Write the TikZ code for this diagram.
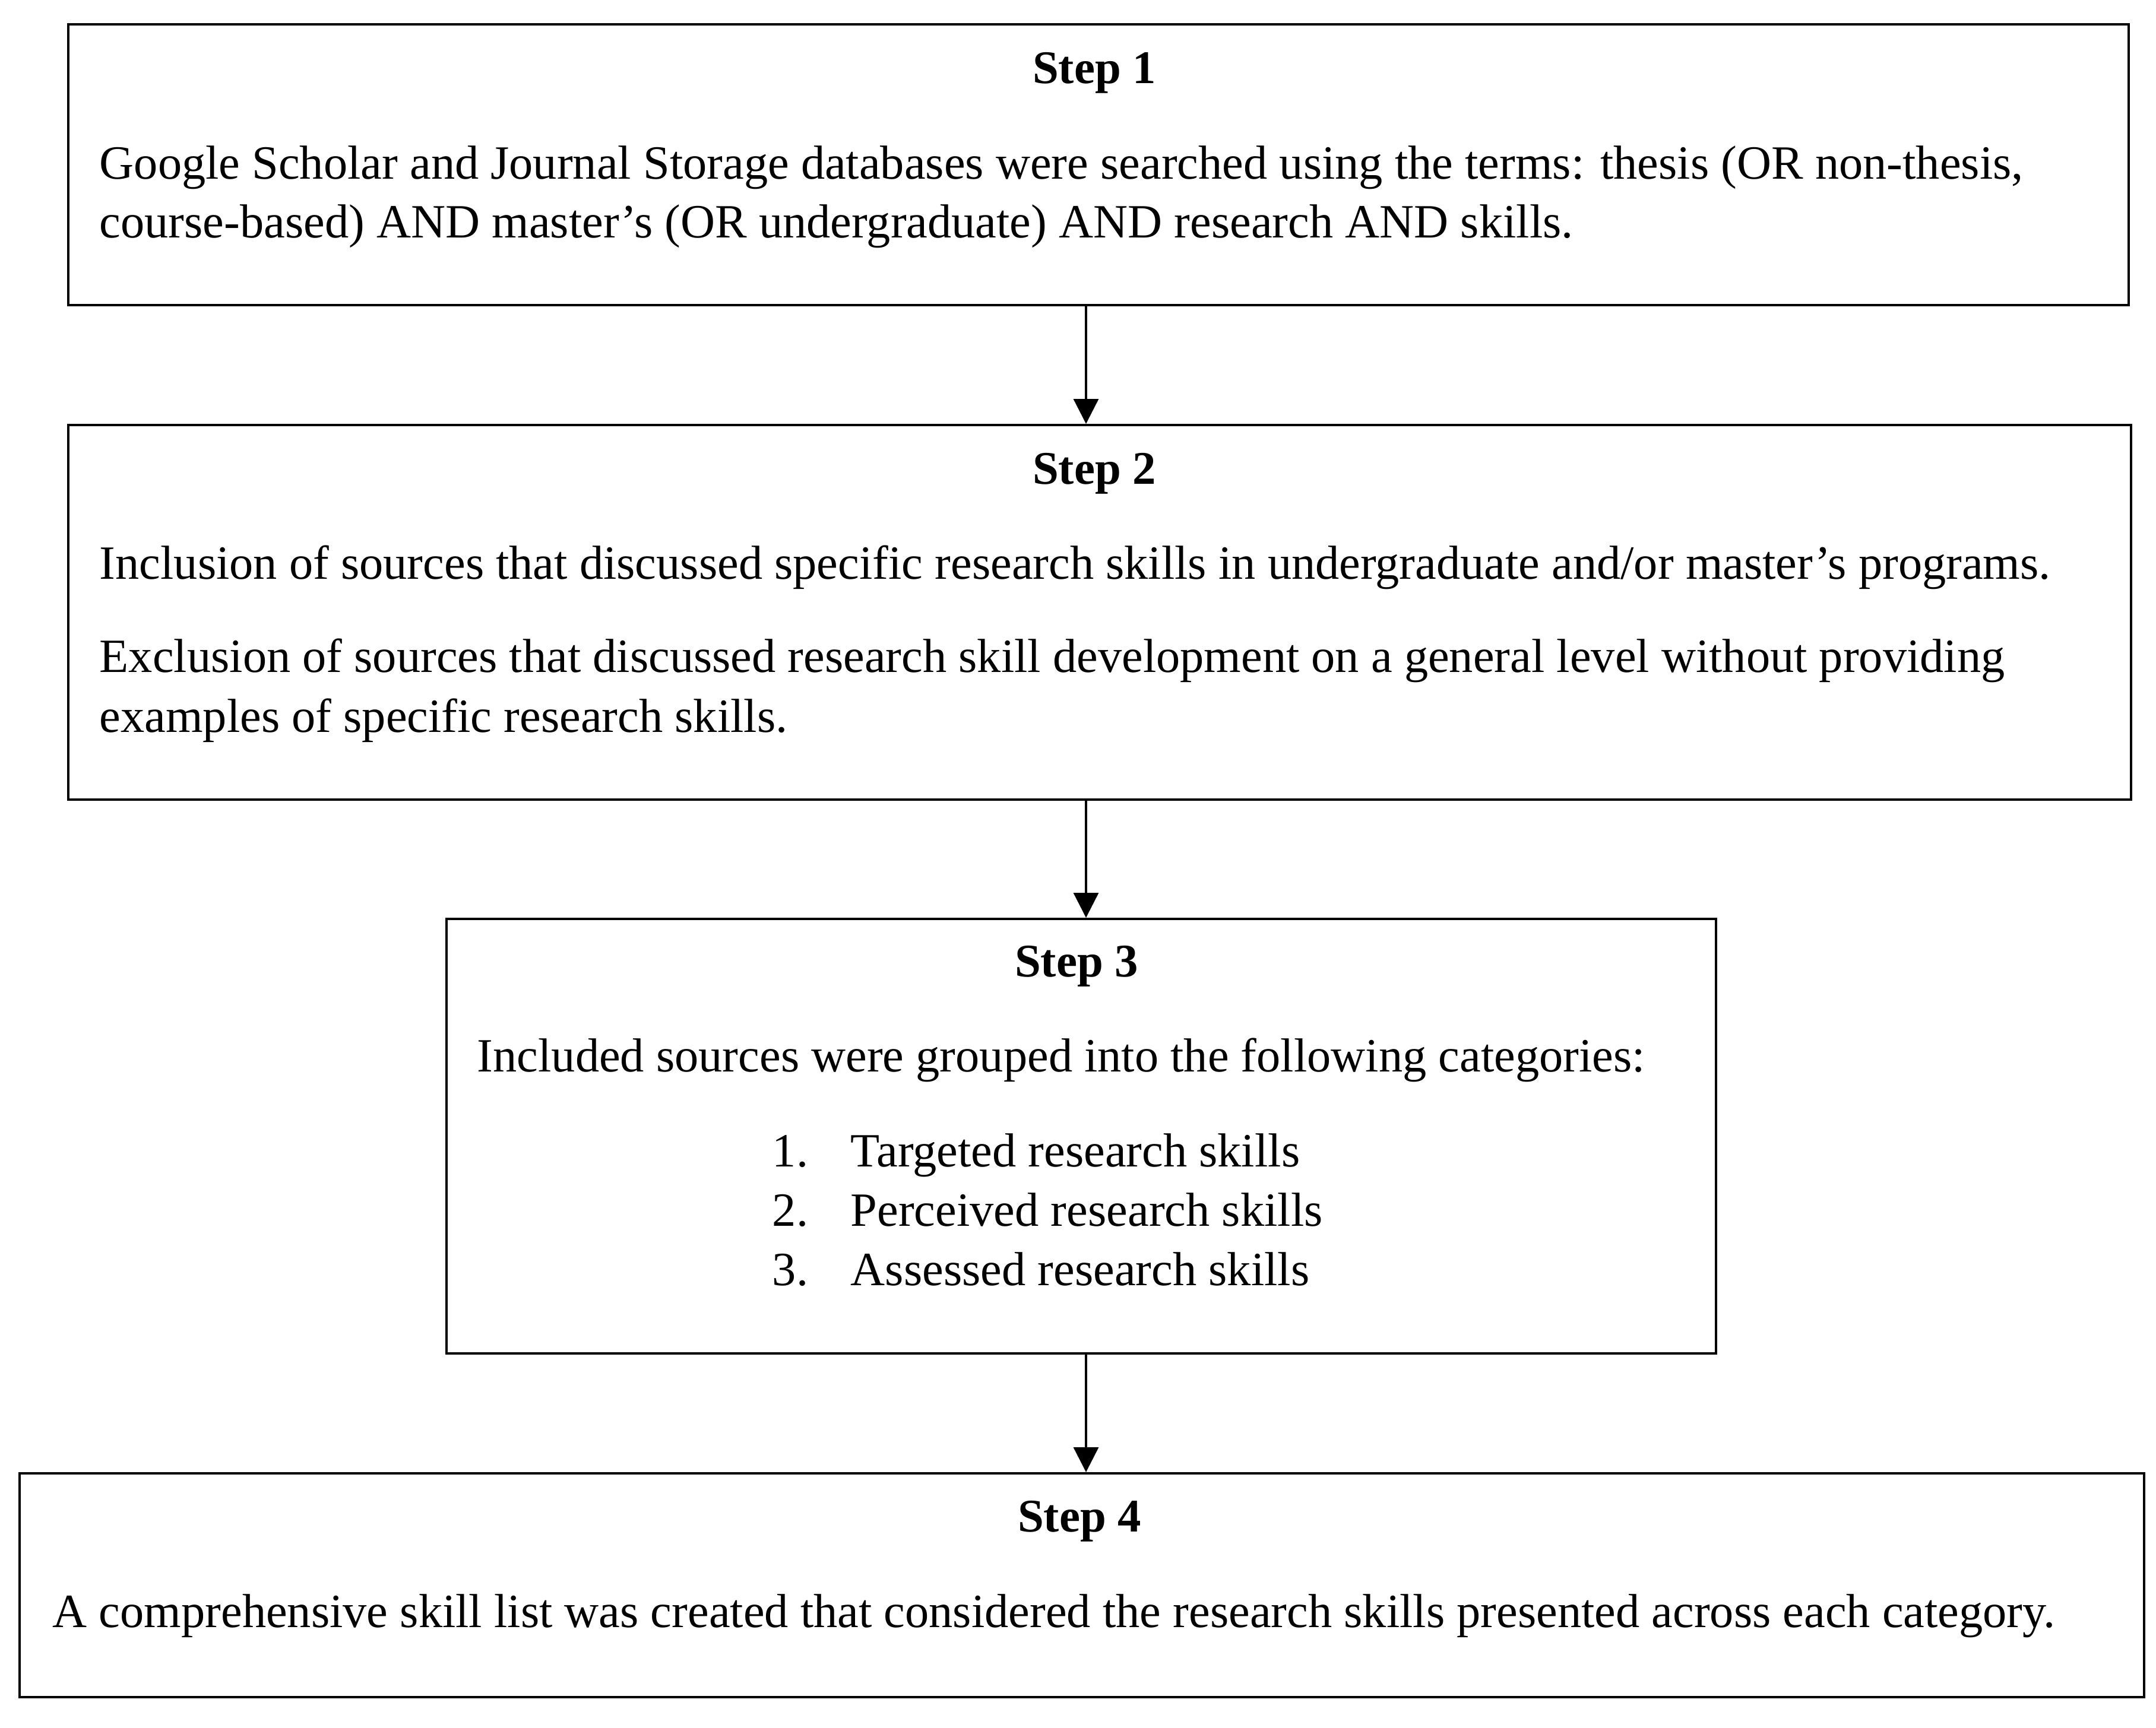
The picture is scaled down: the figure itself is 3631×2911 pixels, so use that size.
\documentclass[tikz,border=0pt]{standalone}
\usepackage{fontspec}
\setmainfont{Liberation Serif}
\usetikzlibrary{arrows.meta}
\begin{document}
\begin{tikzpicture}[x=0.25pt,y=-0.25pt,
  box/.style={draw,line width=0.9pt,inner sep=0pt,anchor=north west},
  txt/.style={inner sep=0pt,anchor=base west,font=\fontsize{20.1}{24.75}\selectfont},
  ttl/.style={inner sep=0pt,anchor=base,font=\fontsize{19.7}{24.75}\selectfont\bfseries},
  arr/.style={line width=0.85pt,-{Triangle[length=10.5pt,width=10.5pt]}}]
\useasboundingbox (0,0) rectangle (3631,2911);
% boxes
\node[box,minimum width=867.5pt,minimum height=118.25pt] (b1) at (113,39) {};
\node[box,minimum width=868.5pt,minimum height=157.75pt] (b2) at (113,714) {};
\node[box,minimum width=534.5pt,minimum height=183pt] (b3) at (750,1546) {};
\node[box,minimum width=894.5pt,minimum height=94.25pt] (b4) at (31,2480) {};
% connectors
\coordinate (ax) at (1829,0);
\draw[arr] (b1.south -| ax) -- (b2.north -| ax);
\draw[arr] (b2.south -| ax) -- (b3.north -| ax);
\draw[arr] (b3.south -| ax) -- (b4.north -| ax);
% step 1
\node[ttl] (s1) at (1843,141) {Step 1};
\node[txt] (s1a) at (167,301) {Google Scholar and Journal Storage databases were searched using the terms: thesis (OR non-thesis,};
\node[txt] (s1b) at (167,400) {course-based) AND master’s (OR undergraduate) AND research AND skills.};
% step 2
\node[ttl] (s2) at (1843,815) {Step 2};
\node[txt] (s2a) at (167,975) {Inclusion of sources that discussed specific research skills in undergraduate and/or master’s programs.};
\node[txt] (s2b) at (167,1132) {Exclusion of sources that discussed research skill development on a general level without providing};
\node[txt] (s2c) at (167,1233) {examples of specific research skills.};
% step 3
\node[ttl] (s3) at (1813,1645) {Step 3};
\node[txt] (s3a) at (803,1805) {Included sources were grouped into the following categories:};
\node[txt] (n1) at (1300,1965) {1.};
\node[txt] (i1) at (1432,1965) {Targeted research skills};
\node[txt] (n2) at (1300,2065) {2.};
\node[txt] (i2) at (1432,2065) {Perceived research skills};
\node[txt] (n3) at (1300,2165) {3.};
\node[txt] (i3) at (1432,2165) {Assessed research skills};
% step 4
\node[ttl] (s4) at (1818,2580) {Step 4};
\node[txt] (s4a) at (88,2741) {A comprehensive skill list was created that considered the research skills presented across each category.};
\end{tikzpicture}
\end{document}
